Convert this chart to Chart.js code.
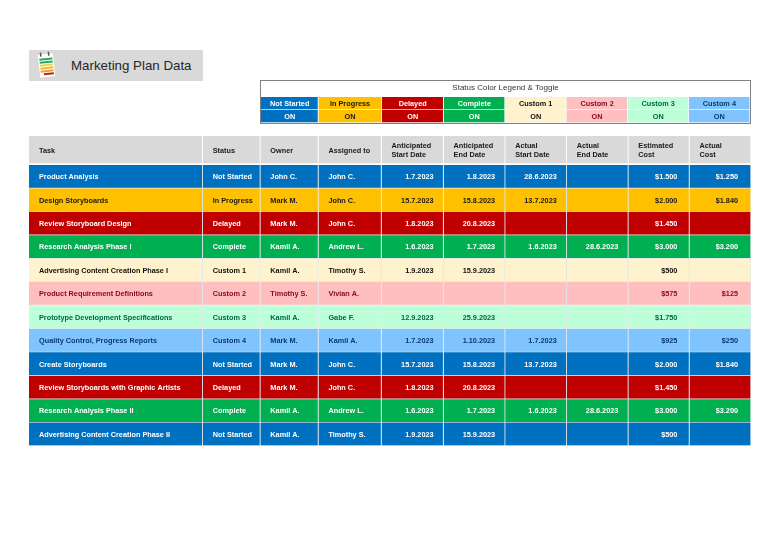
<!DOCTYPE html>
<html>
<head>
<meta charset="utf-8">
<title>Marketing Plan Data</title>
<script src="https://cdn.jsdelivr.net/npm/chart.js@4"></script>
<style>
    html, body { margin: 0; padding: 0; background: #fff; width: 768px; height: 543px; overflow: hidden; }
    body { font-family: "Liberation Sans", Arial, sans-serif; position: relative; }
    .box { position: absolute; }
    canvas { display: block; filter: blur(0.3px); }
    #banner { left: 29px; top: 50px; width: 174px; height: 31px; background: #d9d9d9; }
    #banner span { position: absolute; left: 42px; top: 7px; font-size: 13.3px; line-height: 17px; color: #262626; white-space: nowrap; }
    #banner svg { position: absolute; left: 7px; top: 1px; }
    #legendBox { left: 260px; top: 80px; width: 491px; height: 44px; box-sizing: border-box; border: 1px solid #808080; }
    #headerBox { left: 29px; top: 136px; }
    #bodyBox { left: 29px; top: 165px; }
</style>
</head>
<body>
<div class="box" id="banner">
    <svg width="22" height="28" viewBox="0 0 22 28">
        <g transform="rotate(-6 11 14)">
            <rect x="3" y="3" width="15" height="23" fill="#fff"/>
            <rect x="5" y="1" width="1.5" height="4" fill="#555"/>
            <rect x="13" y="1" width="1.5" height="4" fill="#555"/>
            <rect x="4" y="7" width="13" height="2" fill="#27a85a"/>
            <rect x="4" y="10" width="13" height="2" fill="#27a85a"/>
            <rect x="4" y="13" width="13" height="2" fill="#e3d34a"/>
            <rect x="4" y="16" width="13" height="2" fill="#f2b632"/>
            <rect x="4" y="19" width="13" height="2" fill="#f0a030"/>
            <rect x="7" y="22" width="10" height="2" fill="#c02020"/>
        </g>
    </svg>
    <span>Marketing Plan Data</span>
</div>
<div class="box" id="legendBox"><canvas id="legendChart" width="489" height="42"></canvas></div>
<div class="box" id="headerBox"><canvas id="headerChart" width="722" height="28"></canvas></div>
<div class="box" id="bodyBox"><canvas id="bodyChart" width="722" height="281"></canvas></div>

<script>
// Table contents
const headers = [['Task'], ['Status'], ['Owner'], ['Assigned to'], ['Anticipated', 'Start Date'], ['Anticipated', 'End Date'], ['Actual', 'Start Date'], ['Actual', 'End Date'], ['Estimated', 'Cost'], ['Actual', 'Cost']];
const tasks = ['Product Analysis', 'Design Storyboards', 'Review Storyboard Design', 'Research Analysis Phase I', 'Advertising Content Creation Phase I', 'Product Requirement Definitions', 'Prototype Development Specifications', 'Quality Control, Progress Reports', 'Create Storyboards', 'Review Storyboards with Graphic Artists', 'Research Analysis Phase II', 'Advertising Content Creation Phase II'];
const statuses = ['Not Started', 'In Progress', 'Delayed', 'Complete', 'Custom 1', 'Custom 2', 'Custom 3', 'Custom 4', 'Not Started', 'Delayed', 'Complete', 'Not Started'];
const owners = ['John C.', 'Mark M.', 'Mark M.', 'Kamil A.', 'Kamil A.', 'Timothy S.', 'Kamil A.', 'Mark M.', 'Mark M.', 'Mark M.', 'Kamil A.', 'Kamil A.'];
const assignees = ['John C.', 'John C.', 'John C.', 'Andrew L.', 'Timothy S.', 'Vivian A.', 'Gabe F.', 'Kamil A.', 'John C.', 'John C.', 'Andrew L.', 'Timothy S.'];
const antStart = ['1.7.2023', '15.7.2023', '1.8.2023', '1.6.2023', '1.9.2023', '', '12.9.2023', '1.7.2023', '15.7.2023', '1.8.2023', '1.6.2023', '1.9.2023'];
const antEnd = ['1.8.2023', '15.8.2023', '20.8.2023', '1.7.2023', '15.9.2023', '', '25.9.2023', '1.10.2023', '15.8.2023', '20.8.2023', '1.7.2023', '15.9.2023'];
const actStart = ['28.6.2023', '13.7.2023', '', '1.6.2023', '', '', '', '1.7.2023', '13.7.2023', '', '1.6.2023', ''];
const actEnd = ['', '', '', '28.6.2023', '', '', '', '', '', '', '28.6.2023', ''];
const estCost = ['$1.500', '$2.000', '$1.450', '$3.000', '$500', '$575', '$1.750', '$925', '$2.000', '$1.450', '$3.000', '$500'];
const actCost = ['$1.250', '$1.840', '', '$3.200', '', '$125', '', '$250', '$1.840', '', '$3.200', ''];

const legendTitle = 'Status Color Legend & Toggle';
const legendStatuses = ['Not Started', 'In Progress', 'Delayed', 'Complete', 'Custom 1', 'Custom 2', 'Custom 3', 'Custom 4'];
const legendToggles = ['ON', 'ON', 'ON', 'ON', 'ON', 'ON', 'ON', 'ON'];

// Styles and layout
const fills = { 'Not Started': '#0070c0', 'In Progress': '#ffc000', 'Delayed': '#c00000', 'Complete': '#00b050', 'Custom 1': '#fff2cc', 'Custom 2': '#ffbfbf', 'Custom 3': '#bdffd8', 'Custom 4': '#80c4ff' };
const inks = { 'Not Started': '#ffffff', 'In Progress': '#1a1a1a', 'Delayed': '#ffffff', 'Complete': '#ffffff', 'Custom 1': '#111111', 'Custom 2': '#8a0a2a', 'Custom 3': '#006644', 'Custom 4': '#0a3a70' };
const columnWidths = [173.5, 57.5, 58, 63, 62, 61.5, 61.5, 61.5, 61, 61.5];
const legendWidths = [57.5, 63.5, 62, 61.5, 61.5, 61.5, 61, 61.5];
const columnAligns = ['left', 'left', 'left', 'left', 'right', 'right', 'right', 'right', 'right', 'right'];
const columnPads = [10, 10, 10, 10, 10, 10, 10, 10, 12, 13];
const BOLD = 'bold 7.3px "Liberation Sans", Arial, sans-serif';

// Draws the text of each cell at the position the scales give for that cell
const cellText = {
    id: 'cellText',
    afterDatasetsDraw(chart, args, opts) {
        const { ctx, scales: { x, y } } = chart;
        ctx.save();
        ctx.font = BOLD;
        ctx.textBaseline = 'middle';
        opts.cells.forEach((row, r) => {
            let edge = 0;
            row.forEach((text, c) => {
                const left = x.getPixelForValue(edge);
                edge += opts.widths[c];
                const right = x.getPixelForValue(edge);
                const lines = Array.isArray(text) ? text : [text];
                const align = opts.aligns[c];
                ctx.textAlign = align;
                ctx.fillStyle = opts.inkFor(r, c);
                const px = align === 'left' ? left + opts.pads[c] : align === 'right' ? right - opts.pads[c] : (left + right) / 2;
                lines.forEach((line, i) => {
                    if (line) ctx.fillText(line, px, y.getPixelForValue(r) + (i - (lines.length - 1) / 2) * 9 + 0.5);
                });
            });
        });
        ctx.restore();
    }
};

function makeGrid(id, rowLabels, widths, fillFor, border, extra) {
    const total = widths.reduce((a, b) => a + b, 0);
    return new Chart(document.getElementById(id), {
        type: 'bar',
        data: {
            labels: rowLabels,
            datasets: widths.map((w, c) => ({
                data: rowLabels.map(() => w),
                backgroundColor: rowLabels.map((_, r) => fillFor(r, c)),
                borderColor: border,
                borderWidth: { right: 1, bottom: 1 },
                borderSkipped: false,
                barPercentage: 1,
                categoryPercentage: 1
            }))
        },
        options: {
            indexAxis: 'y',
            responsive: false,
            animation: false,
            scales: {
                x: { type: 'linear', stacked: true, min: 0, max: total, display: false },
                y: { type: 'category', stacked: true, display: false }
            },
            plugins: Object.assign({
                legend: { display: false },
                tooltip: { enabled: false }
            }, extra)
        },
        plugins: [cellText]
    });
}

// Legend block
makeGrid('legendChart', ['Status', 'Toggle'], legendWidths, (r, c) => fills[legendStatuses[c]], '#f4f7f9', {
    title: { display: true, text: legendTitle, color: '#333333', font: { family: '"Liberation Sans", Arial, sans-serif', size: 8, weight: 'normal' }, padding: { top: 2, bottom: 4.4 } },
    cellText: { cells: [legendStatuses, legendToggles], widths: legendWidths, pads: legendWidths.map(() => 0), aligns: legendWidths.map(() => 'center'), inkFor: (r, c) => inks[legendStatuses[c]] }
});

// Column headings
makeGrid('headerChart', ['Header'], columnWidths, () => '#d9d9d9', '#ffffff', {
    cellText: { cells: [headers], widths: columnWidths, pads: columnPads.map(() => 10), aligns: headers.map(() => 'left'), inkFor: () => '#1a1a1a' }
});

// Task rows
const bodyRows = tasks.map((t, i) => [t, statuses[i], owners[i], assignees[i], antStart[i], antEnd[i], actStart[i], actEnd[i], estCost[i], actCost[i]]);
makeGrid('bodyChart', tasks, columnWidths, r => fills[statuses[r]], '#dfe6ea', {
    cellText: { cells: bodyRows, widths: columnWidths, pads: columnPads, aligns: columnAligns, inkFor: r => inks[statuses[r]] }
});
</script>
</body>
</html>
